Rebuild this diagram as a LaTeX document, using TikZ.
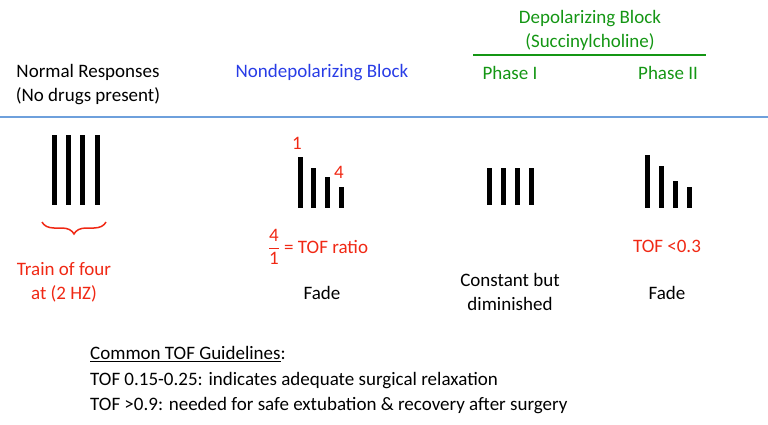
\documentclass[tikz,border=0pt]{standalone}
\usepackage{fontspec}
\setmainfont{Carlito}
\usetikzlibrary{positioning,decorations.pathreplacing}
\definecolor{nblue}{RGB}{40,60,230}
\definecolor{dgreen}{RGB}{20,150,20}
\definecolor{tred}{RGB}{240,40,20}
\definecolor{lineblue}{RGB}{110,160,220}
\tikzset{
  lbl/.style={font=\fontsize{19}{24}\selectfont, inner sep=1pt, align=center},
  bar/.style={fill=black},
}
\begin{document}
\begin{tikzpicture}[x=1pt, y=-1pt]
	\useasboundingbox (0,0) rectangle (768,425);
	% headings
	\node[lbl] (normal) at (88,85) {Normal Responses\\(No drugs present)};
	\node[lbl, text=nblue] (nondep) at (322,73) {Nondepolarizing Block};
	\node[lbl, text=dgreen] (depol) at (590,30) {Depolarizing Block\\(Succinylcholine)};
	\node[lbl, text=dgreen] (phase1) at (510,73) {Phase I};
	\node[lbl, text=dgreen] (phase2) at (668,73) {Phase II};
	\coordinate (gl) at (473,55);
	\coordinate (gr) at (706,55);
	\draw[dgreen, line width=1.5pt] (gl) -- (gr);
	\coordinate (bl) at (0,117);
	\coordinate (br) at (768,117);
	\draw[lineblue, line width=1.5pt] (bl) -- (br);
	% bars
	\foreach \x in {52,66,80,95}
		\fill[bar] (\x,135) rectangle ++(5,70);
	\foreach \x/\t in {298/157,311/168,325/177,339/187}
		\fill[bar] (\x,\t) rectangle (\x+5,208);
	\foreach \x in {487,501,515,529}
		\fill[bar] (\x,168) rectangle ++(5,37);
	\foreach \x/\t in {645/155,659/166,673/181,687/187}
		\fill[bar] (\x,\t) rectangle (\x+5,208);
	% labels
	\coordinate (brl) at (106,222);
	\coordinate (brr) at (42,222);
	\draw[tred, line width=1.5pt, decorate, decoration={brace, amplitude=12pt}] (brl) -- (brr);
	\node[lbl, text=tred] (train) at (64,282) {Train of four\\at (2 HZ)};
	\node[lbl, text=tred] (one) at (297,143) {1};
	\node[lbl, text=tred] (four) at (339,172) {4};
	\node[lbl, text=tred] (ratio) at (318,247) {$\displaystyle\frac{\mbox{4}}{\mbox{1}}$ = TOF ratio};
	\node[lbl] (fade1) at (322,293) {Fade};
	\node[lbl] (const) at (510,292) {Constant but\\diminished};
	\node[lbl, text=tred] (tof) at (667,246) {TOF <0.3};
	\node[lbl] (fade2) at (667,293) {Fade};
	% guidelines
	\node[lbl, anchor=west] (guide) at (89,354) {\underline{Common TOF Guidelines}:};
	\node[lbl, anchor=west] (g1) at (89,381) {TOF 0.15-0.25: indicates adequate surgical relaxation};
	\node[lbl, anchor=west] (g2) at (89,406) {TOF >0.9: needed for safe extubation \& recovery after surgery};
\end{tikzpicture}
\end{document}
